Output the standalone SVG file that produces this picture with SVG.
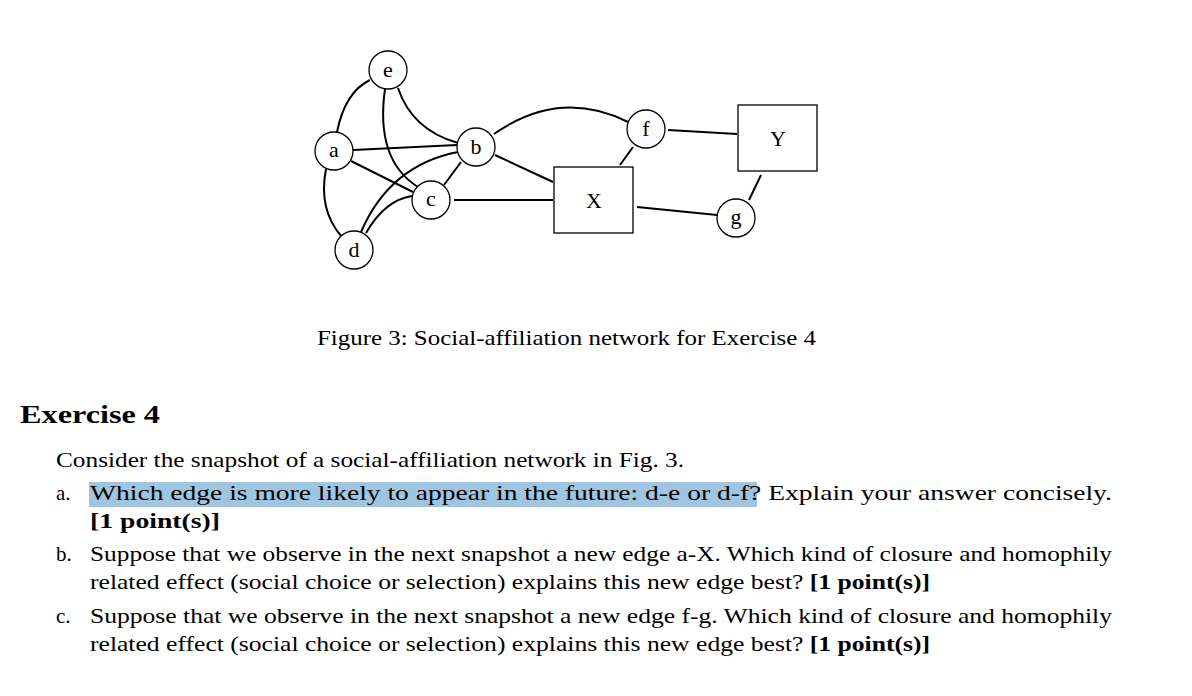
<svg xmlns="http://www.w3.org/2000/svg" width="1192" height="696" viewBox="0 0 1192 696">
<style>
.n{fill:#fff;stroke:#000;stroke-width:1.3}
.e{fill:none;stroke:#000;stroke-width:2}
.l{font-family:"Liberation Serif",serif;font-size:22px;text-anchor:middle;fill:#000}
.t{font-family:"Liberation Serif",serif;font-size:21px;fill:#000}
</style>
<rect width="1192" height="696" fill="#fff"/>
<g id="connectors">
<path class="e" d="M337,132 Q345,92 370,80"/>
<path class="e" d="M326,169 Q318,210 342,237"/>
<line class="e" x1="353" y1="150" x2="457" y2="145"/>
<line class="e" x1="351" y1="161" x2="413" y2="192"/>
<path class="e" d="M398,88 Q412,130 458,143"/>
<path class="e" d="M385,89 Q375,160 418,187"/>
<path class="e" d="M361,232 Q390,165 458,152"/>
<path class="e" d="M366,233 Q385,200 412,196"/>
<line class="e" x1="444" y1="185" x2="461" y2="162"/>
<line class="e" x1="495" y1="155" x2="553" y2="182"/>
<path class="e" d="M494,134 Q560,88 628,122"/>
<line class="e" x1="454" y1="200" x2="553" y2="200"/>
<line class="e" x1="620" y1="165" x2="633" y2="147"/>
<line class="e" x1="668" y1="130" x2="737" y2="134"/>
<line class="e" x1="637" y1="207" x2="717" y2="215"/>
<line class="e" x1="749" y1="200" x2="761" y2="175"/>
</g>
<g id="e"><circle class="n" cx="388" cy="70" r="19"/><text class="l" x="388" y="77">e</text></g>
<g id="a"><circle class="n" cx="334" cy="151" r="19"/><text class="l" x="334" y="157">a</text></g>
<g id="b"><circle class="n" cx="476" cy="147" r="19"/><text class="l" x="476" y="154">b</text></g>
<g id="c"><circle class="n" cx="431" cy="200" r="19"/><text class="l" x="431" y="206">c</text></g>
<g id="d"><circle class="n" cx="354" cy="250" r="19"/><text class="l" x="354" y="257">d</text></g>
<g id="f"><circle class="n" cx="646" cy="129" r="19"/><text class="l" x="646" y="136">f</text></g>
<g id="g"><circle class="n" cx="736" cy="218" r="19"/><text class="l" x="736" y="224">g</text></g>
<g id="X"><rect class="n" x="554" y="167" width="79" height="66"/><text class="l" x="594" y="208">X</text></g>
<g id="Y"><rect class="n" x="738" y="105" width="79" height="66"/><text class="l" x="778" y="146">Y</text></g>
<text class="t" x="317" y="345" textLength="499" lengthAdjust="spacingAndGlyphs">Figure 3: Social-affiliation network for Exercise 4</text>
<text x="20" y="423" font-family="Liberation Serif,serif" font-size="25" font-weight="bold" textLength="140" lengthAdjust="spacingAndGlyphs">Exercise 4</text>
<rect x="89" y="482" width="668" height="25" fill="#9fc5e0"/>
<text class="t" x="56" y="467" textLength="628" lengthAdjust="spacingAndGlyphs">Consider the snapshot of a social-affiliation network in Fig. 3.</text>
<text class="t" x="56" y="500">a.</text>
<text class="t" x="90" y="500" textLength="1022" lengthAdjust="spacingAndGlyphs">Which edge is more likely to appear in the future:  d-e or d-f?  Explain your answer concisely.</text>
<text class="t" x="90" y="528" font-weight="bold" textLength="130" lengthAdjust="spacingAndGlyphs">[1 point(s)]</text>
<text class="t" x="56" y="561">b.</text>
<text class="t" x="90" y="561" textLength="1022" lengthAdjust="spacingAndGlyphs">Suppose that we observe in the next snapshot a new edge a-X. Which kind of closure and homophily</text>
<text class="t" x="90" y="589" textLength="840" lengthAdjust="spacingAndGlyphs">related effect (social choice or selection) explains this new edge best? <tspan font-weight="bold">[1 point(s)]</tspan></text>
<text class="t" x="56" y="623">c.</text>
<text class="t" x="90" y="623" textLength="1022" lengthAdjust="spacingAndGlyphs">Suppose that we observe in the next snapshot a new edge f-g. Which kind of closure and homophily</text>
<text class="t" x="90" y="651" textLength="840" lengthAdjust="spacingAndGlyphs">related effect (social choice or selection) explains this new edge best? <tspan font-weight="bold">[1 point(s)]</tspan></text>
</svg>
